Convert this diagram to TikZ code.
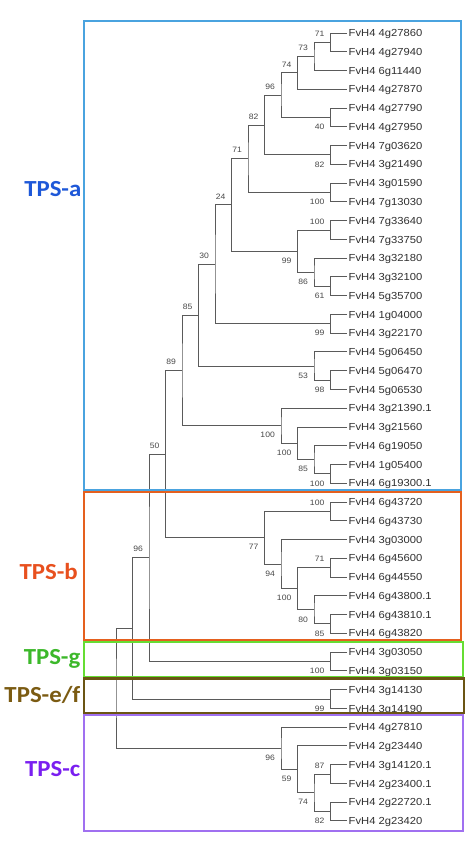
\documentclass[tikz,border=0pt]{standalone}
\usepackage{fontspec}
\setmainfont{Liberation Sans}
\newfontfamily\leaffont[FakeStretch=1.1]{Liberation Sans}
\newfontfamily\grpfont[FakeStretch=1.08]{Carlito}
\usetikzlibrary{calc}
\definecolor{branchc}{HTML}{5A5A5A}
\definecolor{leafc}{HTML}{303030}
\definecolor{bsc}{HTML}{484848}
\definecolor{aText}{HTML}{1E58D8}
\definecolor{aBox}{HTML}{4AA3DF}
\definecolor{bText}{HTML}{E8501E}
\definecolor{bBox}{HTML}{E5601E}
\definecolor{gText}{HTML}{3CB82A}
\definecolor{gBox}{HTML}{66DD33}
\definecolor{eText}{HTML}{7B5B12}
\definecolor{eBox}{HTML}{6B5514}
\definecolor{cText}{HTML}{7A1FF0}
\definecolor{cBox}{HTML}{A070F0}
\begin{document}
\begin{tikzpicture}[x=1pt,y=-1pt,
  leaf/.style={anchor=west, inner sep=1.5pt, text height=7.3pt, text depth=0pt,
    font=\leaffont\fontsize{10.2}{12}\selectfont, text=leafc},
  bs/.style={anchor=east, inner sep=0pt, font=\leaffont\fontsize{7.8}{9}\selectfont, text=bsc},
  br/.style={draw=branchc, line width=0.9pt},
  grp/.style={anchor=base east, inner sep=0pt, font=\grpfont\bfseries\fontsize{23}{26}\selectfont},
  clbox/.style={draw=#1}]
\path[use as bounding box, fill=white] (0,0) rectangle (474,842);

% leaves
\node[leaf] (l0) at (347,33.00) {FvH4 4g27860};
\node[leaf] (l1) at (347,51.76) {FvH4 4g27940};
\node[leaf] (l2) at (347,70.52) {FvH4 6g11440};
\node[leaf] (l3) at (347,89.28) {FvH4 4g27870};
\node[leaf] (l4) at (347,108.04) {FvH4 4g27790};
\node[leaf] (l5) at (347,126.80) {FvH4 4g27950};
\node[leaf] (l6) at (347,145.56) {FvH4 7g03620};
\node[leaf] (l7) at (347,164.32) {FvH4 3g21490};
\node[leaf] (l8) at (347,183.08) {FvH4 3g01590};
\node[leaf] (l9) at (347,201.84) {FvH4 7g13030};
\node[leaf] (l10) at (347,220.60) {FvH4 7g33640};
\node[leaf] (l11) at (347,239.36) {FvH4 7g33750};
\node[leaf] (l12) at (347,258.12) {FvH4 3g32180};
\node[leaf] (l13) at (347,276.88) {FvH4 3g32100};
\node[leaf] (l14) at (347,295.64) {FvH4 5g35700};
\node[leaf] (l15) at (347,314.40) {FvH4 1g04000};
\node[leaf] (l16) at (347,333.16) {FvH4 3g22170};
\node[leaf] (l17) at (347,351.92) {FvH4 5g06450};
\node[leaf] (l18) at (347,370.68) {FvH4 5g06470};
\node[leaf] (l19) at (347,389.44) {FvH4 5g06530};
\node[leaf] (l20) at (347,408.20) {FvH4 3g21390.1};
\node[leaf] (l21) at (347,426.96) {FvH4 3g21560};
\node[leaf] (l22) at (347,445.72) {FvH4 6g19050};
\node[leaf] (l23) at (347,464.48) {FvH4 1g05400};
\node[leaf] (l24) at (347,483.24) {FvH4 6g19300.1};
\node[leaf] (l25) at (347,502.00) {FvH4 6g43720};
\node[leaf] (l26) at (347,520.76) {FvH4 6g43730};
\node[leaf] (l27) at (347,539.52) {FvH4 3g03000};
\node[leaf] (l28) at (347,558.28) {FvH4 6g45600};
\node[leaf] (l29) at (347,577.04) {FvH4 6g44550};
\node[leaf] (l30) at (347,595.80) {FvH4 6g43800.1};
\node[leaf] (l31) at (347,614.56) {FvH4 6g43810.1};
\node[leaf] (l32) at (347,633.32) {FvH4 6g43820};
\node[leaf] (l33) at (347,652.08) {FvH4 3g03050};
\node[leaf] (l34) at (347,670.84) {FvH4 3g03150};
\node[leaf] (l35) at (347,689.60) {FvH4 3g14130};
\node[leaf] (l36) at (347,708.36) {FvH4 3g14190};
\node[leaf] (l37) at (347,727.12) {FvH4 4g27810};
\node[leaf] (l38) at (347,745.88) {FvH4 2g23440};
\node[leaf] (l39) at (347,764.64) {FvH4 3g14120.1};
\node[leaf] (l40) at (347,783.40) {FvH4 2g23400.1};
\node[leaf] (l41) at (347,802.16) {FvH4 2g22720.1};
\node[leaf] (l42) at (347,820.92) {FvH4 2g23420};

% internal nodes
\coordinate (a1) at (330.5,42.38);
\coordinate (a2) at (314,56.45);
\coordinate (a3) at (297.5,72.865);
\coordinate (a4) at (330.5,117.42);
\coordinate (a5) at (281,95.14);
\coordinate (a6) at (330.5,154.94);
\coordinate (a7) at (264.5,125.04);
\coordinate (a8) at (330.5,192.46);
\coordinate (a9) at (248,158.75);
\coordinate (a10) at (330.5,229.98);
\coordinate (a11) at (330.5,286.26);
\coordinate (a12) at (314,272.19);
\coordinate (a13) at (297.5,251.085);
\coordinate (a14) at (231.5,204.92);
\coordinate (a15) at (330.5,323.78);
\coordinate (a16) at (215,264.35);
\coordinate (a17) at (330.5,380.06);
\coordinate (a18) at (314,365.99);
\coordinate (a19) at (198.5,315.17);
\coordinate (a20) at (330.5,473.86);
\coordinate (a21) at (314,459.79);
\coordinate (a22) at (297.5,443.375);
\coordinate (a23) at (281,425.79);
\coordinate (a24) at (182,370.48);
\coordinate (b1) at (330.5,511.38);
\coordinate (b2) at (330.5,567.66);
\coordinate (b3) at (330.5,623.94);
\coordinate (b4) at (314,609.87);
\coordinate (b5) at (297.5,588.765);
\coordinate (b6) at (281,564.14);
\coordinate (b7) at (264.5,537.76);
\coordinate (n50) at (165.5,454.12);
\coordinate (g1) at (330.5,661.46);
\coordinate (nX) at (149,557.79);
\coordinate (e1) at (330.5,698.98);
\coordinate (n133) at (132.5,628.385);
\coordinate (c1) at (330.5,774.02);
\coordinate (c2) at (330.5,811.54);
\coordinate (c3) at (314,792.78);
\coordinate (c4) at (297.5,769.33);
\coordinate (c5) at (281,748.225);
\coordinate (root) at (116,688.3);

% branches
\draw[br] (l0) -| (a1) |- (l1);
\draw[br] (a1) -| (a2) |- (l2);
\draw[br] (a2) -| (a3) |- (l3);
\draw[br] (l4) -| (a4) |- (l5);
\draw[br] (a3) -| (a5) |- (a4);
\draw[br] (l6) -| (a6) |- (l7);
\draw[br] (a5) -| (a7) |- (a6);
\draw[br] (l8) -| (a8) |- (l9);
\draw[br] (a7) -| (a9) |- (a8);
\draw[br] (l10) -| (a10) |- (l11);
\draw[br] (l13) -| (a11) |- (l14);
\draw[br] (l12) -| (a12) |- (a11);
\draw[br] (a10) -| (a13) |- (a12);
\draw[br] (a9) -| (a14) |- (a13);
\draw[br] (l15) -| (a15) |- (l16);
\draw[br] (a14) -| (a16) |- (a15);
\draw[br] (l18) -| (a17) |- (l19);
\draw[br] (l17) -| (a18) |- (a17);
\draw[br] (a16) -| (a19) |- (a18);
\draw[br] (l23) -| (a20) |- (l24);
\draw[br] (l22) -| (a21) |- (a20);
\draw[br] (l21) -| (a22) |- (a21);
\draw[br] (l20) -| (a23) |- (a22);
\draw[br] (a19) -| (a24) |- (a23);
\draw[br] (l25) -| (b1) |- (l26);
\draw[br] (l28) -| (b2) |- (l29);
\draw[br] (l31) -| (b3) |- (l32);
\draw[br] (l30) -| (b4) |- (b3);
\draw[br] (b2) -| (b5) |- (b4);
\draw[br] (l27) -| (b6) |- (b5);
\draw[br] (b1) -| (b7) |- (b6);
\draw[br] (a24) -| (n50) |- (b7);
\draw[br] (l33) -| (g1) |- (l34);
\draw[br] (n50) -| (nX) |- (g1);
\draw[br] (l35) -| (e1) |- (l36);
\draw[br] (nX) -| (n133) |- (e1);
\draw[br] (l39) -| (c1) |- (l40);
\draw[br] (l41) -| (c2) |- (l42);
\draw[br] (c1) -| (c3) |- (c2);
\draw[br] (l38) -| (c4) |- (c3);
\draw[br] (l37) -| (c5) |- (c4);
\draw[br] (n133) -| (root) |- (c5);

% bootstrap values
\node[bs] (t1) at ($(a1)+(-6,-8.5)$) {71};
\node[bs] (t2) at ($(a2)+(-6,-8.5)$) {73};
\node[bs] (t3) at ($(a3)+(-6,-8.5)$) {74};
\node[bs] (t4) at ($(a4)+(-6,9.5)$) {40};
\node[bs] (t5) at ($(a5)+(-6,-8.5)$) {96};
\node[bs] (t6) at ($(a6)+(-6,9.5)$) {82};
\node[bs] (t7) at ($(a7)+(-6,-8.5)$) {82};
\node[bs] (t8) at ($(a8)+(-6,9.5)$) {100};
\node[bs] (t9) at ($(a9)+(-6,-8.5)$) {71};
\node[bs] (t10) at ($(a10)+(-6,-8.5)$) {100};
\node[bs] (t11) at ($(a11)+(-6,9.5)$) {61};
\node[bs] (t12) at ($(a12)+(-6,9.5)$) {86};
\node[bs] (t13) at ($(a13)+(-6,9.5)$) {99};
\node[bs] (t14) at ($(a14)+(-6,-8.5)$) {24};
\node[bs] (t15) at ($(a15)+(-6,9.5)$) {99};
\node[bs] (t16) at ($(a16)+(-6,-8.5)$) {30};
\node[bs] (t17) at ($(a17)+(-6,9.5)$) {98};
\node[bs] (t18) at ($(a18)+(-6,9.5)$) {53};
\node[bs] (t19) at ($(a19)+(-6,-8.5)$) {85};
\node[bs] (t20) at ($(a20)+(-6,9.5)$) {100};
\node[bs] (t21) at ($(a21)+(-6,9.5)$) {85};
\node[bs] (t22) at ($(a22)+(-6,9.5)$) {100};
\node[bs] (t23) at ($(a23)+(-6,9.5)$) {100};
\node[bs] (t24) at ($(a24)+(-6,-8.5)$) {89};
\node[bs] (t25) at ($(b1)+(-6,-8.5)$) {100};
\node[bs] (t26) at ($(b2)+(-6,-8.5)$) {71};
\node[bs] (t27) at ($(b3)+(-6,9.5)$) {85};
\node[bs] (t28) at ($(b4)+(-6,9.5)$) {80};
\node[bs] (t29) at ($(b5)+(-6,9.5)$) {100};
\node[bs] (t30) at ($(b6)+(-6,9.5)$) {94};
\node[bs] (t31) at ($(b7)+(-6,9.5)$) {77};
\node[bs] (t32) at ($(n50)+(-6,-8.5)$) {50};
\node[bs] (t33) at ($(g1)+(-6,9.5)$) {100};
\node[bs] (t34) at ($(nX)+(-6,-8.5)$) {96};
\node[bs] (t35) at ($(e1)+(-6,9.5)$) {99};
\node[bs] (t36) at ($(c1)+(-6,-8.5)$) {87};
\node[bs] (t37) at ($(c2)+(-6,9.5)$) {82};
\node[bs] (t38) at ($(c3)+(-6,9.5)$) {74};
\node[bs] (t39) at ($(c4)+(-6,9.5)$) {59};
\node[bs] (t40) at ($(c5)+(-6,9.5)$) {96};

% clade boxes
\draw[clbox=aBox, line width=1.5pt] (84,21) rectangle (461,490);
\draw[clbox=bBox, line width=2pt] (84,491.5) rectangle (461,640);
\draw[clbox=gBox, line width=1.5pt] (84,642) rectangle (463,677);
\draw[clbox=eBox, line width=2.3pt] (84,678.5) rectangle (464,713);
\draw[clbox=cBox, line width=2pt] (84,714.8) rectangle (463,831);

% group labels
\node[grp, text=aText] (ga) at (81.5,196.5) {TPS-a};
\node[grp, text=bText] (gb) at (78,579) {TPS-b};
\node[grp, text=gText] (gg) at (80.5,664) {TPS-g};
\node[grp, text=eText] (ge) at (80.5,702.5) {TPS-e/f};
\node[grp, text=cText] (gc) at (80.5,776.5) {TPS-c};
\end{tikzpicture}
\end{document}
